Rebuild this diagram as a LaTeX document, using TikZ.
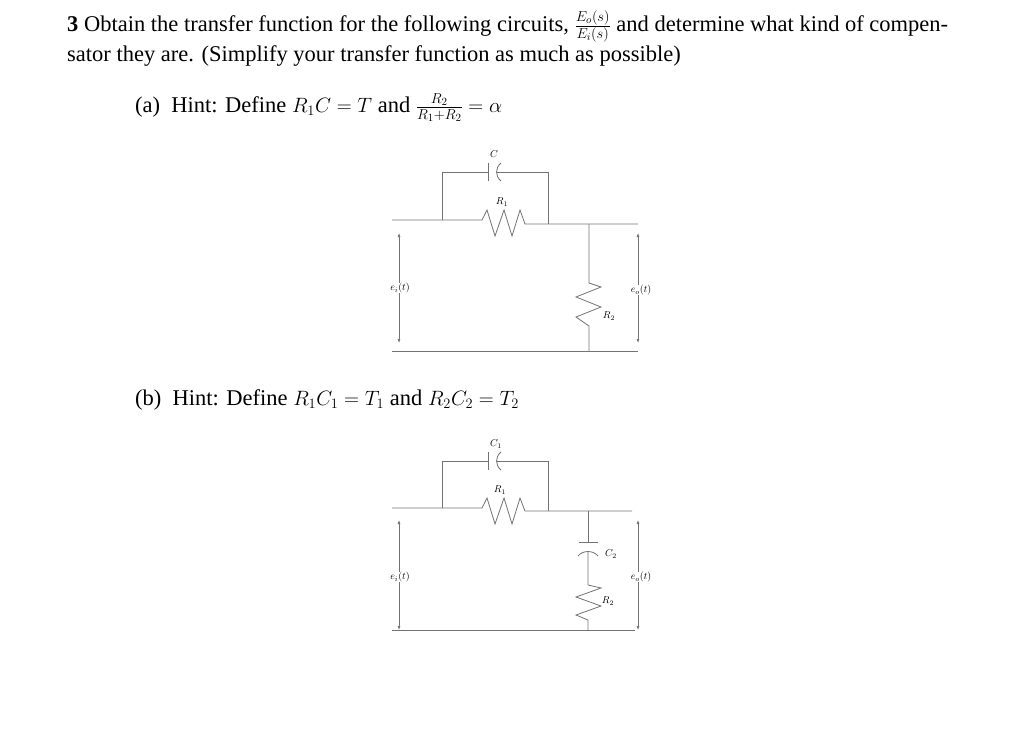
\documentclass[tikz,border=0pt]{standalone}
\usepackage{fontspec}
\setmainfont{Liberation Serif}
\usetikzlibrary{arrows.meta}
\begin{document}
\begin{tikzpicture}[x=1pt,y=-1pt,
  wire/.style={draw=black!55,line width=0.8pt},
  varrow/.style={draw=black!55,line width=0.6pt,{Latex[length=4pt,width=3pt]}-{Latex[length=4pt,width=3pt]}},
  lbl/.style={font=\fontsize{10}{11}\selectfont,inner sep=0pt},
  txt/.style={font=\fontsize{22.5}{26}\selectfont,anchor=base west,inner sep=0pt}]
\useasboundingbox (0,0) rectangle (1024,734);
\node[txt] (t1) at (67,31) {\textbf{3} Obtain the transfer function for the following circuits, $\frac{E_o(s)}{E_i(s)}$ and determine what kind of compen-};
\node[txt] (t2) at (67,61) {sator they are. (Simplify your transfer function as much as possible)};
\node[txt] (ha) at (135,112) {(a)\ \ Hint: Define $R_1C=T$ and $\frac{R_2}{R_1+R_2}=\alpha$};
\node[txt] (hb) at (135,405) {(b)\ \ Hint: Define $R_1C_1=T_1$ and $R_2C_2=T_2$};
% circuit a
\coordinate (a1) at (392,220);
\coordinate (a2) at (442,220);
\coordinate (a3) at (442,172);
\coordinate (a4) at (548,172);
\coordinate (a5) at (548,224);
\coordinate (an) at (589,224);
\coordinate (a6) at (638,224);
\path[wire] (a1)--(a2)--(482,220) -- (487,210)--(495,236)--(504,210)--(512,236)--(520,210)--(525,224)--(a5)--(an)--(a6);
\path[wire] (a2)--(a3)--(488,172);
\path[wire] (488,163)--(488,181);
\path[wire] (501,163) .. controls (495,168) and (495,176) .. (501,181);
\path[wire] (497,172)--(a4)--(a5);
\path[wire] (an)--(589,283)--(601,287)--(576,297)--(601,307)--(576,317)--(589,326)--(589,351);
\path[wire] (392,351)--(638,351);
\path[varrow] (399,233)--(399,343);
\path[varrow] (638,233)--(638,343);
\node[lbl,fill=white] (ei) at (400,288) {$e_i(t)$};
\node[lbl,fill=white] (eo) at (641,290) {$e_o(t)$};
\node[lbl] (c) at (494,154) {$C$};
\node[lbl] (r1) at (502,202) {$R_1$};
\node[lbl] (r2) at (609,316) {$R_2$};
% circuit b
\coordinate (b1) at (392,508);
\coordinate (b2) at (442,508);
\coordinate (b3) at (442,461);
\coordinate (b4) at (548,461);
\coordinate (b5) at (548,511);
\coordinate (bn) at (588,511);
\coordinate (b6) at (632,511);
\path[wire] (b1)--(b2)--(482,508) -- (487,498)--(495,524)--(504,498)--(512,524)--(520,498)--(525,511)--(b5)--(bn)--(b6);
\path[wire] (b2)--(b3)--(488,461);
\path[wire] (488,452)--(488,470);
\path[wire] (501,452) .. controls (495,457) and (495,465) .. (501,470);
\path[wire] (497,461)--(b4)--(b5);
\path[wire] (bn)--(588,542);
\path[wire] (579,542)--(598,542);
\path[wire] (578,556) .. controls (583,550) and (593,550) .. (598,556);
\path[wire] (588,551)--(588,585)--(601,588)--(576,597)--(601,606)--(576,615)--(588,620)--(588,630);
\path[wire] (392,630)--(635,630);
\path[varrow] (399,520)--(399,630);
\path[varrow] (638,520)--(638,630);
\node[lbl,fill=white] (bei) at (400,577) {$e_i(t)$};
\node[lbl,fill=white] (beo) at (641,577) {$e_o(t)$};
\node[lbl] (c1) at (496,444) {$C_1$};
\node[lbl] (br1) at (500,490) {$R_1$};
\node[lbl] (c2) at (611,554) {$C_2$};
\node[lbl] (br2) at (608,601) {$R_2$};
\end{tikzpicture}
\end{document}
